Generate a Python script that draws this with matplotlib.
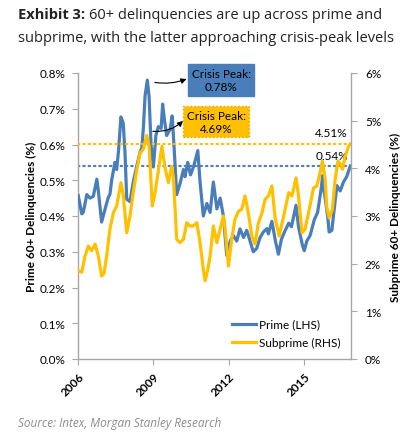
import matplotlib
matplotlib.use("Agg")
import matplotlib.pyplot as plt
from matplotlib.lines import Line2D

# ---- data (decimal years) ----
prime_t = [2006.01, 2006.15, 2006.21, 2006.35, 2006.48, 2006.61, 2006.75, 2006.81, 2006.94, 2007.08,
           2007.21, 2007.27, 2007.34, 2007.47, 2007.54, 2007.61, 2007.71, 2007.80, 2007.87, 2007.94,
           2008.07, 2008.20, 2008.34, 2008.47, 2008.54, 2008.60, 2008.67, 2008.76, 2008.83, 2008.91,
           2009.00, 2009.10, 2009.20, 2009.31, 2009.37, 2009.44, 2009.53, 2009.67, 2009.75, 2009.82,
           2009.93, 2010.06, 2010.20, 2010.26, 2010.37, 2010.48, 2010.61, 2010.77, 2010.86, 2010.99,
           2011.13, 2011.26, 2011.39, 2011.53, 2011.66, 2011.79, 2011.92, 2012.06, 2012.19, 2012.32,
           2012.45, 2012.59, 2012.72, 2012.85, 2012.98, 2013.12, 2013.25, 2013.38, 2013.52, 2013.58,
           2013.72, 2013.86, 2013.98, 2014.10, 2014.22, 2014.39, 2014.50, 2014.68, 2014.78, 2014.94,
           2015.01, 2015.11, 2015.24, 2015.41, 2015.54, 2015.68, 2015.74, 2015.80, 2015.94, 2016.00,
           2016.11, 2016.17, 2016.31, 2016.44, 2016.57, 2016.70, 2016.84]
prime_v = [0.457, 0.406, 0.410, 0.460, 0.450, 0.455, 0.503, 0.470, 0.383, 0.420,
           0.453, 0.460, 0.500, 0.550, 0.530, 0.580, 0.677, 0.660, 0.580, 0.447,
           0.440, 0.495, 0.540, 0.578, 0.590, 0.643, 0.736, 0.780, 0.735, 0.597,
           0.537, 0.625, 0.650, 0.645, 0.713, 0.670, 0.625, 0.643, 0.680, 0.600,
           0.460, 0.490, 0.530, 0.510, 0.550, 0.515, 0.540, 0.583, 0.495, 0.400,
           0.435, 0.410, 0.495, 0.420, 0.450, 0.400, 0.290, 0.330, 0.345, 0.330,
           0.364, 0.340, 0.360, 0.330, 0.300, 0.310, 0.340, 0.355, 0.365, 0.350,
           0.385, 0.330, 0.293, 0.335, 0.355, 0.380, 0.370, 0.430, 0.370, 0.317,
           0.303, 0.330, 0.345, 0.390, 0.410, 0.475, 0.513, 0.470, 0.400, 0.355,
           0.360, 0.400, 0.485, 0.470, 0.495, 0.510, 0.540]

sub_t = [2006.01, 2006.15, 2006.28, 2006.41, 2006.54, 2006.68, 2006.81, 2006.94, 2007.04, 2007.14,
         2007.27, 2007.41, 2007.54, 2007.71, 2007.80, 2007.94, 2008.07, 2008.20, 2008.34, 2008.47,
         2008.60, 2008.74, 2008.83, 2008.96, 2009.07, 2009.20, 2009.34, 2009.47, 2009.60, 2009.73,
         2009.80, 2009.93, 2010.06, 2010.20, 2010.33, 2010.46, 2010.59, 2010.73, 2010.86, 2010.99,
         2011.06, 2011.17, 2011.26, 2011.39, 2011.53, 2011.66, 2011.79, 2011.86, 2011.99, 2012.12,
         2012.25, 2012.39, 2012.52, 2012.65, 2012.78, 2012.92, 2013.05, 2013.18, 2013.32, 2013.45,
         2013.58, 2013.72, 2013.85, 2014.01, 2014.19, 2014.39, 2014.52, 2014.68, 2014.78, 2014.92,
         2015.04, 2015.18, 2015.38, 2015.51, 2015.64, 2015.73, 2015.84, 2015.90, 2016.00, 2016.13,
         2016.24, 2016.35, 2016.44, 2016.53, 2016.64, 2016.77, 2016.84]
sub_v = [1.85, 1.82, 2.16, 2.37, 2.27, 2.41, 2.16, 1.74, 1.80, 2.16,
         2.72, 3.07, 3.21, 3.70, 3.45, 2.65, 3.00, 3.49, 3.97, 4.32,
         4.40, 4.69, 4.45, 3.21, 3.50, 3.95, 4.46, 4.00, 3.70, 4.04,
         3.80, 2.51, 2.44, 2.51, 2.86, 2.79, 2.79, 2.86, 2.44, 1.88,
         1.64, 1.88, 2.16, 2.79, 2.44, 2.72, 3.00, 2.72, 1.95, 2.51,
         2.93, 3.10, 3.14, 3.42, 3.07, 2.58, 2.41, 2.85, 3.05, 3.35,
         3.42, 3.63, 2.95, 2.58, 3.00, 3.49, 3.42, 3.80, 3.42, 2.65,
         2.72, 3.07, 3.59, 3.63, 3.91, 4.15, 3.77, 3.21, 2.96, 3.14,
         3.77, 4.15, 4.10, 3.98, 4.25, 4.46, 4.51]

year_ticks = [2006, 2009, 2012, 2015]
prime_ticks = [0.0, 0.1, 0.2, 0.3, 0.4, 0.5, 0.6, 0.7, 0.8]
sub_ticks = [0, 1, 2, 3, 4, 5, 6]
prime_peak = 0.78
sub_peak = 4.69
prime_now = 0.54
sub_now = 4.51

BLUE = "#4A7EBB"
GOLD = "#FFC000"
GREY = "#A6A6A6"
FONT = ["Lato", "DejaVu Sans"]
TFONT = ["Open Sans", "DejaVu Sans"]

plt.rcParams["font.family"] = FONT

fig = plt.figure(figsize=(4.14, 4.35), dpi=100)
ax = fig.add_axes([78 / 414, 1 - 360 / 435, (351 - 78) / 414, (360 - 74) / 435])
ax2 = ax.twinx()

xmax = 2016.87
ax.set_xlim(2006, xmax)
ax.set_ylim(0, 0.8)
ax2.set_ylim(0, 6)

ax.plot(prime_t, prime_v, color=BLUE, lw=2.3, solid_joinstyle="round", zorder=3)
ax.axhline(prime_now, color=BLUE, lw=1.6, ls=(0, (0.6, 1.8)), dash_capstyle="round", zorder=2)
ax2.axhline(sub_now, color=GOLD, lw=1.6, ls=(0, (0.6, 1.8)), dash_capstyle="round", zorder=2)
ax2.plot(sub_t, sub_v, color=GOLD, lw=2.3, solid_joinstyle="round", zorder=3)

for a in (ax, ax2):
    a.spines["top"].set_visible(False)
    for s in ("left", "right", "bottom"):
        a.spines[s].set_color(GREY)
        a.spines[s].set_linewidth(1.0)
ax.spines["right"].set_visible(False)
ax2.spines["left"].set_visible(False)
ax2.spines["bottom"].set_visible(False)

ax.set_yticks(prime_ticks)
ax.set_yticklabels([f"{v:.1f}%" for v in prime_ticks])
ax2.set_yticks(sub_ticks)
ax2.set_yticklabels([f"{v}%" for v in sub_ticks])
ax.set_xticks(year_ticks)
ax.set_xticklabels([str(y) for y in year_ticks], rotation=45, ha="right",
                   rotation_mode="anchor", fontweight="bold")
ax.tick_params(axis="y", length=4, width=0.8, color=GREY, labelsize=8.5, pad=5)
ax2.tick_params(axis="y", length=4, width=0.8, color=GREY, labelsize=8.5, pad=6)
ax.tick_params(axis="x", length=4, width=0.8, color=GREY, labelsize=8.5, pad=4)

ax.set_ylabel("Prime 60+ Delinquencies (%)", fontsize=8.5, fontweight="bold", labelpad=2)
ax2.set_ylabel("Subprime 60+ Delinquencies (%)", fontsize=8.5, fontweight="bold", labelpad=6)

# annotation boxes
ax.text(2006 + (221 - 78) / 25.1, 0.8 + (74 - 81) / 357.5, "Crisis Peak:\n" + f"{prime_peak:.2f}%",
        ha="center", va="center", fontsize=8.5, linespacing=1.25,
        bbox=dict(boxstyle="square,pad=0.3", fc=BLUE, ec=BLUE))
ax2.text(2006 + (216 - 78) / 25.1, 6 * (360 - 122) / 287, "Crisis Peak:\n" + f"{sub_peak:.2f}%",
         ha="center", va="center", fontsize=8.5, linespacing=1.25,
         bbox=dict(boxstyle="square,pad=0.3", fc=GOLD, ec="#E0A800", ls=":"))

ax.annotate("", xy=(2006 + (189 - 78) / 25.1, 0.8 + (74 - 79) / 357.5),
            xytext=(2006 + (152 - 78) / 25.1, 0.8 + (74 - 83) / 357.5),
            arrowprops=dict(arrowstyle="-|>", color="black", lw=0.8,
                            connectionstyle="arc3,rad=0.15", mutation_scale=8), zorder=5)
ax.annotate("", xy=(2006 + (185 - 78) / 25.1, 0.8 + (74 - 120) / 357.5),
            xytext=(2006 + (150 - 78) / 25.1, 0.8 + (74 - 132) / 357.5),
            arrowprops=dict(arrowstyle="-|>", color="black", lw=0.8,
                            connectionstyle="arc3,rad=0.25", mutation_scale=8), zorder=5)

ax2.text(xmax - 0.12, sub_now + 0.12, f"{sub_now:.2f}%", ha="right", va="bottom", fontsize=8.5)
ax.text(xmax - 0.12, prime_now + 0.015, f"{prime_now:.2f}%", ha="right", va="bottom", fontsize=8.5)

handles = [Line2D([], [], color=BLUE, lw=2.3), Line2D([], [], color=GOLD, lw=2.3)]
ax2.legend(handles, ["Prime (LHS)", "Subprime (RHS)"], loc="lower right",
           bbox_to_anchor=(1.0, 0.0), frameon=False, fontsize=8.5, handlelength=2.0,
           handletextpad=0.25, labelspacing=0.65)

t1 = fig.text(18 / 414, 1 - 8 / 435, "Exhibit 3:", fontsize=10.5, fontweight="bold",
              family=TFONT, va="top", color="#222222")
fig.canvas.draw()
bb = t1.get_window_extent(renderer=fig.canvas.get_renderer())
x2 = (bb.x1 + 4) / fig.bbox.width
fig.text(x2, 1 - 8 / 435, "60+ delinquencies are up across prime and", fontsize=10.5,
         family=TFONT, va="top", color="#222222")
fig.text(18 / 414, 1 - 31 / 435, "subprime, with the latter approaching crisis-peak levels",
         fontsize=10.5, family=TFONT, va="top", color="#222222")
fig.text(18 / 414, 1 - 424 / 435, "Source: Intex, Morgan Stanley Research", fontsize=8.5,
         style="italic", family=TFONT, va="center", color="#8C8C8C")

fig.savefig("out.png", dpi=100)
